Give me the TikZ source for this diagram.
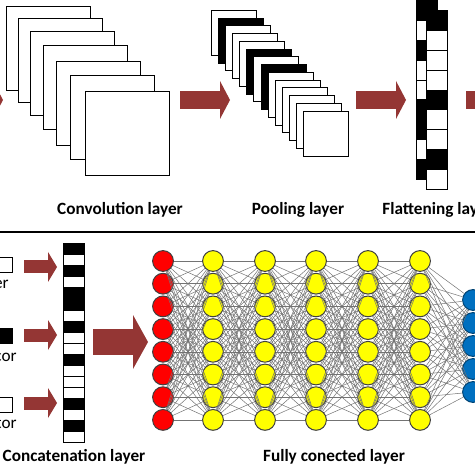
\documentclass[tikz,border=0pt]{standalone}
\usepackage{fontspec}
\setmainfont{Carlito}
\usepackage{tikz}
\usetikzlibrary{arrows.meta, positioning}
\definecolor{arrowRed}{RGB}{148,54,52}
\definecolor{unitRed}{RGB}{255,0,0}
\definecolor{unitYellow}{RGB}{255,255,0}
\definecolor{unitBlue}{RGB}{0,112,192}
% one column of black/white cells: name, x, top y, cell height (px), fills
\newcommand*{\barcode}[5]{%
  \foreach \shade [count=\n] in {#5} {%
    \node [cell, minimum height=#4*0.5pt, fill=\shade] (#1\n)
      at (#2, {#3+(\n-1)*#4}) {};
  }%
}

\begin{document}
\begin{tikzpicture}[x=0.5pt, y=-0.5pt,
  layerName/.style  = {font=\fontsize{8.6}{10}\selectfont\bfseries,
                       anchor=base, inner sep=0pt},
  inputName/.style  = {font=\fontsize{8.6}{10}\selectfont,
                       anchor=base east, inner sep=0pt},
  convMap/.style    = {draw, line width=0.5pt, fill=white, anchor=north west,
                       inner sep=0pt, minimum size=42pt},
  poolMap/.style    = {draw, line width=0.5pt, anchor=north west,
                       inner sep=0pt, minimum size=22.5pt},
  cell/.style       = {draw, line width=0.5pt, anchor=north west,
                       inner sep=0pt, minimum width=10.5pt},
  neuron/.style     = {circle, draw=black!75, line width=0.5pt,
                       inner sep=0pt, minimum size=10.4pt},
  link/.style       = {draw=black!55, line width=0.25pt},
  bigArrow/.style   = {draw=arrowRed, line width=9pt,
                       -{Triangle[width=19pt, length=5pt, line width=0pt]}},
  smallArrow/.style = {draw=arrowRed, line width=6.5pt,
                       -{Triangle[width=15pt, length=4.5pt, line width=0pt]}},
  hugeArrow/.style  = {draw=arrowRed, line width=13pt,
                       -{Triangle[width=27pt, length=7.5pt, line width=0pt]}},
  ]
  \useasboundingbox (0,0) rectangle (474,474);

  % convolution maps
  \foreach \x/\y [count=\n] in {6/6, 18/18, 30/31, 43/45, 56/61, 70/75, 85/91}
    \node [convMap] (conv\n) at (\x,\y) {};

  % pooling maps
  \foreach \shade [count=\n from 0] in {white,black,white,white,white,black,white,
                                        black,white,white,white,white,white,white}
    \node [poolMap, fill=\shade] (pool\n) at ({211+7.08*\n}, {10+7.75*\n}) {};

  % flattened vector
  \barcode{flatA}{416}{0}{19.9}{black,white,black,white,white,black,black,white,black}
  \barcode{flatB}{426}{10}{19.9}{black,white,white,white,black,white,white,black,white}

  \coordinate (inTail)   at (-48,100);  \coordinate (inTip)   at (3,100);
  \coordinate (convTail) at (180,100);  \coordinate (convTip) at (230,100);
  \coordinate (poolTail) at (356,100);  \coordinate (poolTip) at (406,100);
  \coordinate (flatTail) at (466,100);  \coordinate (flatTip) at (516,100);
  \draw [bigArrow] (inTail) -- (inTip);
  \draw [bigArrow] (convTail) -- (convTip);
  \draw [bigArrow] (poolTail) -- (poolTip);
  \draw [bigArrow] (flatTail) -- (flatTip);

  \node [layerName] (convLabel) at (120,215) {Convolution layer};
  \node [layerName] (poolLabel) at (298,215) {Pooling layer};
  \node [layerName, anchor=base west] (flatLabel) at (382,215) {Flattening layer};

  \draw [line width=1pt] (-5,232) -- (480,232);

  % inputs
  \node [cell, anchor=north east, minimum width=20pt, minimum height=7.5pt,
         fill=white] (inA) at (12.5,257) {};
  \node [cell, anchor=north east, minimum width=20pt, minimum height=7.5pt,
         fill=black] (inB) at (12.5,328) {};
  \node [cell, anchor=north east, minimum width=20pt, minimum height=7.5pt,
         fill=white] (inC) at (12.5,397) {};
  \node [inputName] (inAName) at (9,289)  {er};
  \node [inputName] (inBName) at (17,361) {cor};
  \node [inputName] (inCName) at (17,428) {tor};

  \coordinate (aTail) at (24,267);  \coordinate (aTip) at (57,267);
  \coordinate (bTail) at (24,335);  \coordinate (bTip) at (57,335);
  \coordinate (cTail) at (24,403);  \coordinate (cTip) at (57,403);
  \draw [smallArrow] (aTail) -- (aTip);
  \draw [smallArrow] (bTail) -- (bTip);
  \draw [smallArrow] (cTail) -- (cTip);

  % concatenated vector
  \barcode{concat}{63}{243.3}{11.05}{black,white,black,white,black,black,white,black,white,
    white,black,white,white,white,black,white,black,white}

  \coordinate (catTail) at (93,342);  \coordinate (catTip) at (148,342);
  \draw [hugeArrow] (catTail) -- (catTip);

  % fully connected part
  \foreach \i in {0,...,7}
    \node [neuron, fill=unitRed] (l0-\i) at (163, {261+22.7*\i}) {};
  \foreach \c/\x in {1/213, 2/265, 3/316, 4/368, 5/420}
    \foreach \i in {0,...,7}
      \node [neuron, fill=unitYellow] (l\c-\i) at (\x, {261+22.7*\i}) {};
  \foreach \i in {0,...,4}
    \node [neuron, fill=unitBlue, draw=unitBlue!60!black] (out-\i)
      at (473, {300+23*\i}) {};

  \foreach \c [evaluate=\c as \d using int(\c+1)] in {0,...,4}
    \foreach \i in {0,...,7}
      \foreach \j in {0,...,7}
        \draw [link] (l\c-\i) -- (l\d-\j);
  \foreach \i in {0,...,7}
    \foreach \j in {0,...,4}
      \draw [link] (l5-\i) -- (out-\j);

  \node [layerName] (concatLabel) at (74,461) {Concatenation layer};
  \node [layerName] (fcLabel) at (334,461) {Fully conected layer};
\end{tikzpicture}
\end{document}
